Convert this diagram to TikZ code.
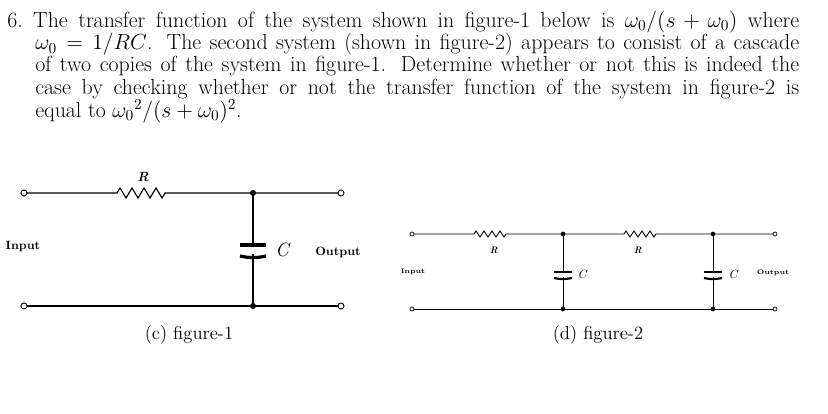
\RequirePackage{fix-cm}
\documentclass[tikz,border=0pt]{standalone}
\begin{document}
\begin{tikzpicture}[x=0.75pt,y=-0.75pt,
  w/.style={line width=0.9pt},
  term/.style={circle,draw,line width=0.7pt,inner sep=0pt,minimum size=4.5pt,fill=white},
  dotn/.style={circle,fill,inner sep=0pt,minimum size=4.5pt},
  lab/.style={font=\bfseries\small},
  plate/.style={line width=2.4pt}]
\useasboundingbox (0,0) rectangle (828,414);
\node[anchor=north west,inner sep=0pt,text width=594pt,align=justify,font=\fontsize{16.4}{16.6}\selectfont] at (7,11)
{\hangindent=21pt\hangafter=1 6.\ The transfer function of the system shown in figure-1 below is $\omega_0/(s+\omega_0)$ where\linebreak
$\omega_0=1/RC$. The second system (shown in figure-2) appears to consist of a cascade\linebreak
of two copies of the system in figure-1. Determine whether or not this is indeed the\linebreak
case by checking whether or not the transfer function of the system in figure-2 is\linebreak
equal to ${\omega_0}^2/(s+\omega_0)^2$.\par};
% figure 1
\coordinate (a1) at (24,193); \coordinate (r1a) at (117,193); \coordinate (r1b) at (165,193);
\coordinate (n1) at (253,193); \coordinate (a2) at (341,193);
\coordinate (b1) at (24,306); \coordinate (m1) at (253,306); \coordinate (b2) at (341,306);
\coordinate (c1t) at (253,245); \coordinate (c1b) at (253,254);
\draw[w] (a1) -- (r1a) -- ++(3,-5) -- ++(6,10) -- ++(6,-10) -- ++(6,10) -- ++(6,-10) -- ++(6,10) -- ++(6,-10) -- ++(6,10) -- (r1b) -- (n1) -- (a2);
\draw[w] (b1) -- (b2);
\draw[w] (n1) -- (c1t) (c1b) -- (m1);
\draw[plate] (240,245) -- (266,245);
\draw[plate] (240,256) to[bend right=12] (266,256);
\node[dotn] (d1) at (n1) {}; \node[dotn] (d2) at (m1) {};
\node[term] (t1) at (a1) {}; \node[term] (t2) at (a2) {}; \node[term] (t3) at (b1) {}; \node[term] (t4) at (b2) {};
\node[font=\itshape\bfseries] (R1) at (143,177) {R};
\node[font=\itshape\Large] (C1) at (282,250) {C};
\node[lab] (in1) at (23,247) {Input};
\node[lab] (out1) at (338,252) {Output};
\node[font=\fontsize{14}{15}\selectfont] (cap1) at (189,335) {(c) figure-1};
% figure 2
\coordinate (A1) at (412,234); \coordinate (N1) at (563,234); \coordinate (N2) at (713,234); \coordinate (A2) at (775,234);
\coordinate (B1) at (412,309); \coordinate (M1) at (563,309); \coordinate (M2) at (713,309); \coordinate (B2) at (775,309);
\draw[w,line width=0.7pt] (A1) -- (474,234) -- ++(2,-3) -- ++(4,6) -- ++(4,-6) -- ++(4,6) -- ++(4,-6) -- ++(4,6) -- ++(4,-6) -- ++(4,6) -- (506,234) -- (N1)
 -- (624,234) -- ++(2,-3) -- ++(4,6) -- ++(4,-6) -- ++(4,6) -- ++(4,-6) -- ++(4,6) -- ++(4,-6) -- ++(4,6) -- (656,234) -- (N2) -- (A2);
\draw[w,line width=0.7pt] (B1) -- (B2);
\draw[w,line width=0.7pt] (N1) -- (563,272) (563,277) -- (M1);
\draw[w,line width=0.7pt] (N2) -- (713,272) (713,277) -- (M2);
\draw[line width=1.6pt] (554,272) -- (572,272); \draw[line width=1.6pt] (554,278) to[bend right=12] (572,278);
\draw[line width=1.6pt] (704,272) -- (722,272); \draw[line width=1.6pt] (704,278) to[bend right=12] (722,278);
\foreach \p in {N1,N2,M1,M2} \node[dotn,minimum size=3.5pt] at (\p) {};
\foreach \p in {A1,A2,B1,B2} \node[term,minimum size=3pt,line width=0.5pt] at (\p) {};
\node[font=\itshape\scriptsize\bfseries] (R2) at (494,250) {R};
\node[font=\itshape\scriptsize\bfseries] (R3) at (638,250) {R};
\node[font=\itshape\small] (C2) at (582,274) {C};
\node[font=\itshape\small] (C3) at (733,274) {C};
\node[font=\bfseries\tiny] (in2) at (413,272) {Input};
\node[font=\bfseries\tiny] (out2) at (773,273) {Output};
\node[font=\fontsize{14}{15}\selectfont] (cap2) at (598,335) {(d) figure-2};
\end{tikzpicture}
\end{document}
